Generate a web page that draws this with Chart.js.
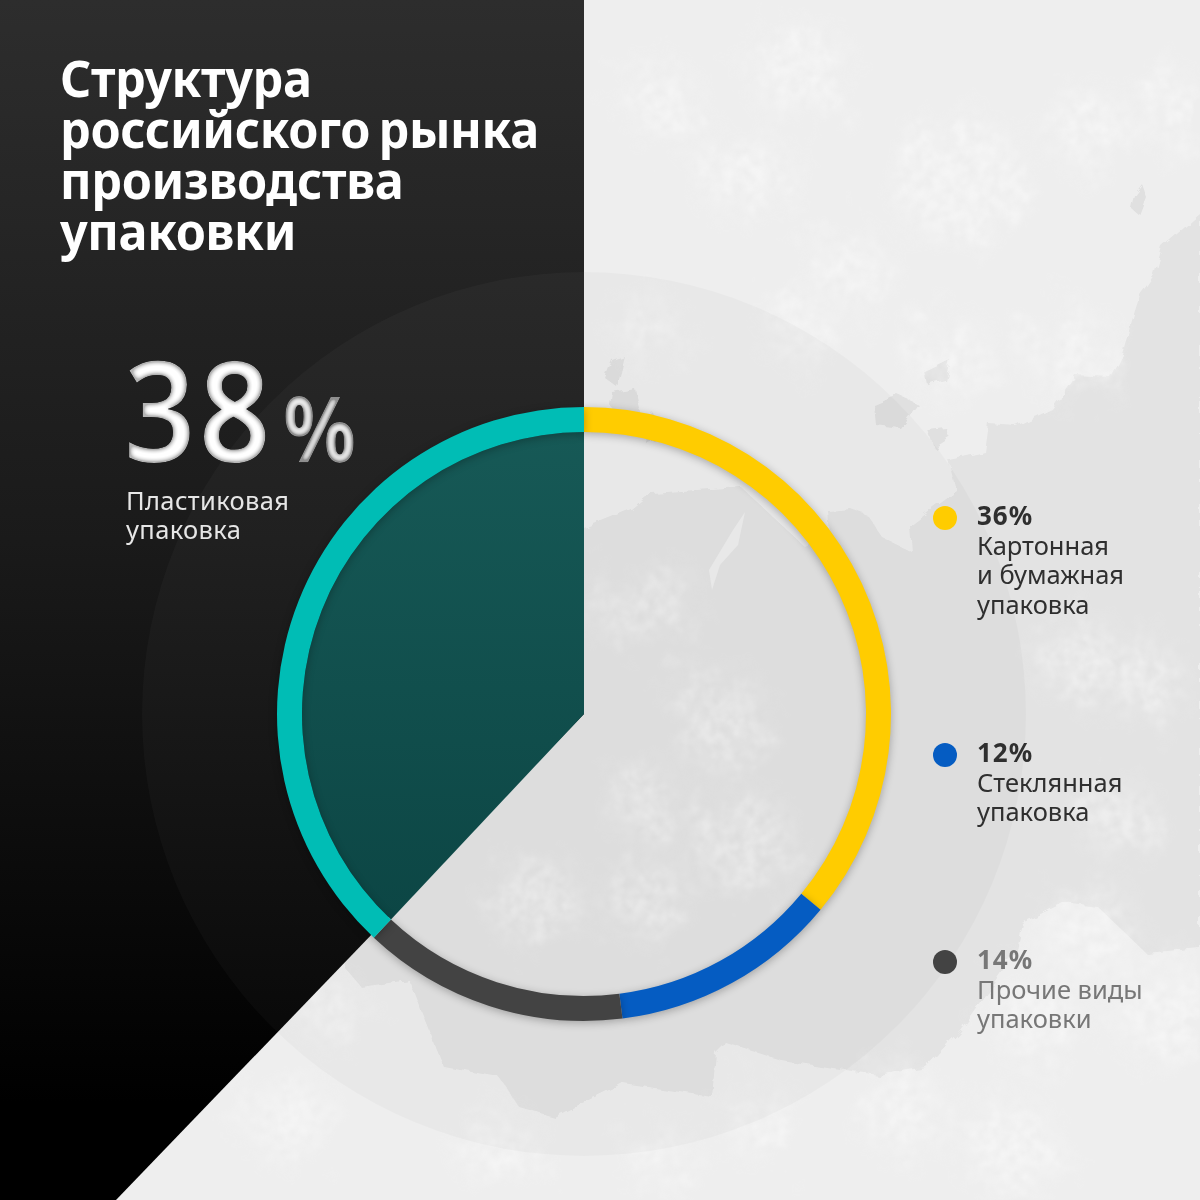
<!DOCTYPE html>
<html lang="ru"><head><meta charset="utf-8">
<script src="https://cdn.jsdelivr.net/npm/chart.js@4"></script>
<style>
html,body{margin:0;padding:0;width:1200px;height:1200px;overflow:hidden;background:#eeeeee}
#bg,#wrap,.t{position:absolute}
#bg{left:0;top:0}
#wrap{left:264px;top:394px;width:640px;height:640px}
body{font-family:"Noto Sans",sans-serif}
#title{left:60px;top:53px;color:#fff;font-weight:700;font-size:50px;line-height:51px;white-space:pre;letter-spacing:-.4px;word-spacing:-4px;transform:scaleX(.972);transform-origin:0 0}
#sub{left:126px;top:486px;color:#e6e6e6;font-size:25.5px;line-height:29px;white-space:pre;letter-spacing:.35px}
.leg{left:977px;top:0;font-size:25.5px;line-height:29.5px;white-space:pre;color:#2f2f2f}
.leg b{font-weight:700;font-size:26px;letter-spacing:1px}
.dot{position:absolute;width:24px;height:24px;border-radius:50%;left:933px}
#big{left:0;top:0}
</style></head><body>
<svg id="bg" width="1200" height="1200" viewBox="0 0 1200 1200" xmlns="http://www.w3.org/2000/svg">
<defs>
<linearGradient id="dk" x1="0" y1="0" x2="0" y2="1"><stop offset="0" stop-color="#2d2d2d"/><stop offset=".45" stop-color="#1a1a1a"/><stop offset=".92" stop-color="#000"/></linearGradient>
<filter id="org" x="0" y="0" width="1200" height="1200" filterUnits="userSpaceOnUse">
<feGaussianBlur in="SourceGraphic" stdDeviation="14" result="s"/>
<feTurbulence type="fractalNoise" baseFrequency=".028" numOctaves="4" seed="11" result="n"/>
<feDisplacementMap in="s" in2="n" scale="70" result="d"/>
<feTurbulence type="fractalNoise" baseFrequency=".09" numOctaves="3" seed="4"/>
<feColorMatrix type="matrix" values="0 0 0 0 1 0 0 0 0 1 0 0 0 0 1 1.8 0 0 0 -.35" result="a"/>
<feComposite in="d" in2="a" operator="in"/>
<feGaussianBlur stdDeviation=".8"/>
</filter>
<filter id="rag" x="-5%" y="-5%" width="110%" height="110%"><feTurbulence type="fractalNoise" baseFrequency=".07" numOctaves="3" seed="3"/><feDisplacementMap in="SourceGraphic" scale="8"/></filter>
<clipPath id="dkc"><polygon points="0,0 584,0 584,714 116,1200 0,1200"/></clipPath>
</defs>
<rect width="1200" height="1200" fill="#eeeeee"/>
<path id="map" filter="url(#rag)" fill="#e3e3e3" d="M1200,214 L1162,247 L1154,275 L1140,295 L1134,314 L1122,354 L1110,377 L1075,375 L1052,409 L1016,426 L989,424 L985,452 L949,460 L957,491 L930,511 L910,526 L912,552 L883,538 L867,515 L851,509 L828,511 L830,534 L804,546 L741,487 L651,493 L631,509 L584,528 L400,560 L300,800 L347,970 L361,987 L409,980 L430,1033 L444,1067 L499,1077 L519,1107 L554,1117 L623,1083 L712,1097 L716,1053 L726,1043 L781,1060 L878,1075 L926,1067 L960,1030 L1015,953 L1022,923 L1063,903 L1098,907 L1146,953 L1200,948 Z"/>
<path fill="#eeeeee" d="M733,530 L745,512 L738,545 L720,565 L712,590 L709,570 Z"/>
<path fill="#e0e0e0" filter="url(#rag)" d="M1134,195 L1142,184 L1147,198 L1140,216 L1131,208 Z M612,360 L624,356 L616,386 L605,378 Z M612,392 L634,388 L642,420 L625,428 L610,405 Z M650,410 L668,432 L648,445 L645,425 Z M874,405 L898,395 L918,404 L900,428 L876,425 Z M925,372 L950,360 L945,380 L928,385 Z M928,430 L946,428 L950,438 L934,448 Z"/>
<g id="trees" fill="#fff" opacity=".42" filter="url(#org)"></g>
<circle cx="584" cy="714" r="442" fill="#000" opacity=".022"/>
<polygon points="0,0 584,0 584,714 116,1200 0,1200" fill="url(#dk)"/>
<circle cx="584" cy="714" r="442" fill="#fff" opacity=".028" clip-path="url(#dkc)"/>
</svg>
<div id="wrap"><canvas id="c" width="640" height="640"></canvas></div>
<div class="t" id="title"></div>
<svg class="t" id="big" width="1200" height="1200" style="pointer-events:none">
<defs><filter id="bev" x="-5%" y="-5%" width="110%" height="110%">
<feGaussianBlur in="SourceAlpha" stdDeviation="3" result="b"/>
<feComponentTransfer in="b" result="c"><feFuncA type="linear" slope="3" intercept="-1.9"/></feComponentTransfer>
<feFlood flood-color="#fff"/><feComposite in2="c" operator="in" result="w"/>
<feMerge result="m"><feMergeNode in="SourceGraphic"/><feMergeNode in="w"/></feMerge>
<feComposite in="m" in2="SourceAlpha" operator="in"/>
</filter></defs>
<text id="n1" x="124" y="462" font-family="Noto Sans" font-weight="600" font-size="139" letter-spacing="4" textLength="150" lengthAdjust="spacingAndGlyphs" fill="#b4b4b4" filter="url(#bev)"></text>
<text id="n2" x="283" y="462" font-family="Noto Sans" font-weight="700" font-size="91" textLength="73" lengthAdjust="spacingAndGlyphs" fill="#8e8e8e" filter="url(#bev)"></text>
</svg>
<div class="t" id="sub"></div>
<script>
const titleLines=["Структура","российского рынка","производства","упаковки"];
const categories=["Картонная\nи бумажная\nупаковка","Стеклянная\nупаковка","Прочие виды\nупаковки","Пластиковая\nупаковка"];
const shares=[36,12,14,38];
const ringColors=["#ffcc00","#055cc2","#434343","#00bdb5"];
const legendTops=[501,738,945];
const legendColors=["#2f2f2f","#2f2f2f","#777777"];
const treeSpots=[[660,100,36],[800,70,46],[960,180,62],[745,175,42],[850,270,36],[1090,130,40],[1175,110,34],[650,330,30],[800,330,34],[950,355,38],[1070,350,42],[620,610,28],[665,600,30],[720,720,46],[640,800,32],[745,845,48],[535,900,44],[650,900,36],[1080,660,40],[1145,680,36],[1120,820,34],[1040,1020,46],[1170,1010,52],[1090,930,44],[760,1120,34],[1010,1150,46],[290,1120,40],[330,1010,30],[500,1150,36],[900,1110,40],[660,1160,30]];
const g=document.getElementById('trees');
treeSpots.forEach(([x,y,r])=>{const e=document.createElementNS('http://www.w3.org/2000/svg','circle');e.setAttribute('cx',x);e.setAttribute('cy',y);e.setAttribute('r',r);g.appendChild(e)});
document.getElementById('title').textContent=titleLines.join("\n");
document.getElementById('n1').textContent=shares[3];
document.getElementById('n2').textContent="%";
document.getElementById('sub').textContent=categories[3];
shares.slice(0,3).forEach((v,i)=>{
  const d=document.createElement('div');d.className='t leg';d.style.top=legendTops[i]+'px';d.style.color=legendColors[i];
  const b=document.createElement('b');b.textContent=v+"%\n";d.appendChild(b);d.appendChild(document.createTextNode(categories[i]));document.body.appendChild(d);
  const s=document.createElement('div');s.className='dot';s.style.top=(legendTops[i]+5)+'px';s.style.background=ringColors[i];document.body.appendChild(s);
});
const ringShadow={id:'ringShadow',
 beforeDatasetDraw(ch,a){ch.ctx.save();if(a.index===0){ch.ctx.shadowColor='rgba(0,0,0,.28)';ch.ctx.shadowBlur=8;ch.ctx.shadowOffsetY=2;}},
 afterDatasetDraw(ch){ch.ctx.restore();}};
new Chart(document.getElementById('c'),{type:'doughnut',
 data:{labels:categories,datasets:[
  {data:shares,backgroundColor:ringColors,borderWidth:0,weight:25},
  {data:shares,borderWidth:0,weight:282,backgroundColor:(c)=>{
    if(c.dataIndex!==3)return 'rgba(0,0,0,0)';
    const gr=c.chart.ctx.createLinearGradient(0,13,0,627);gr.addColorStop(0,'#175a57');gr.addColorStop(1,'#0a4241');return gr;}}
 ]},
 options:{responsive:false,animation:false,cutout:0,rotation:0,layout:{padding:13},
  plugins:{legend:{display:false},tooltip:{enabled:false}}},
 plugins:[ringShadow]});
</script>
</body></html>
